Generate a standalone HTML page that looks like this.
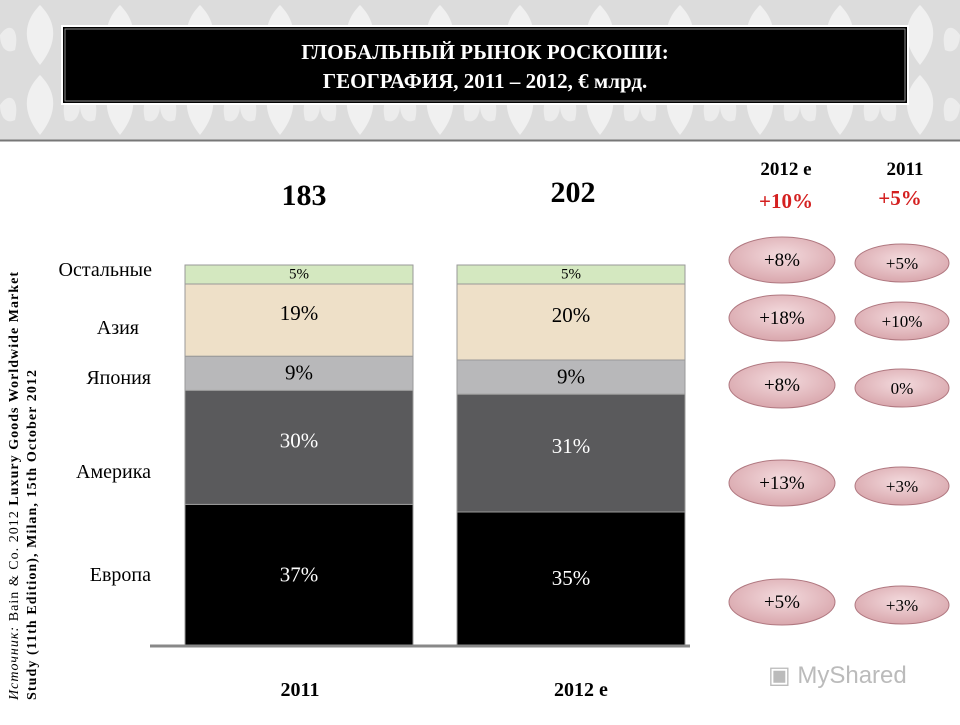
<!DOCTYPE html>
<html><head><meta charset="utf-8"><style>
body{margin:0;width:960px;height:720px;overflow:hidden;background:#fff;font-family:"Liberation Serif","DejaVu Serif",serif;}
</style></head><body>
<svg width="960" height="720" xmlns="http://www.w3.org/2000/svg" id="chart">
<defs>
<pattern id="dam" width="80" height="70" patternUnits="userSpaceOnUse">
<rect width="80" height="70" fill="#dcdcdc"/>
<path d="M40 5 C25 20 20 40 40 65 C60 40 55 20 40 5Z" fill="#f0f0f0"/>
<path d="M0 35 C10 20 20 30 15 50 C5 55 0 45 0 35Z" fill="#ececec"/>
<path d="M80 35 C70 20 60 30 65 50 C75 55 80 45 80 35Z" fill="#ececec"/>
</pattern>
<radialGradient id="pink" cx="50%" cy="40%" r="60%"><stop offset="0" stop-color="#f3dadd"/><stop offset="1" stop-color="#d9a7ad"/></radialGradient>
</defs>
<rect x="0" y="0" width="960" height="140" fill="url(#dam)"/>
<line x1="0" y1="140.5" x2="960" y2="140.5" stroke="#777" stroke-width="2"/>
<rect x="62" y="26" width="846" height="78" fill="#000" stroke="#fff" stroke-width="2"/>
<rect x="65" y="29" width="840" height="72" fill="none" stroke="#888" stroke-width="1"/>
<text x="485" y="59" text-anchor="middle" fill="#fff" font-size="21" font-weight="bold">ГЛОБАЛЬНЫЙ РЫНОК РОСКОШИ:</text>
<text x="485" y="88" text-anchor="middle" fill="#fff" font-size="21" font-weight="bold">ГЕОГРАФИЯ, 2011 – 2012, € млрд.</text>
<g id="bars"></g>
<line x1="150" y1="646" x2="690" y2="646" stroke="#888" stroke-width="3"/>
<text x="304" y="205" text-anchor="middle" font-size="30" font-weight="bold">183</text>
<text x="573" y="202" text-anchor="middle" font-size="30" font-weight="bold">202</text>
<text x="300" y="696" text-anchor="middle" font-size="20" font-weight="bold">2011</text>
<text x="581" y="696" text-anchor="middle" font-size="20" font-weight="bold">2012 e</text>
<g font-size="20" text-anchor="end">
<text x="152" y="276">Остальные</text>
<text x="139" y="334">Азия</text>
<text x="151" y="384">Япония</text>
<text x="151" y="478">Америка</text>
<text x="151" y="581">Европа</text>
</g>
<g transform="translate(18,700) rotate(-90)" font-size="14">
<text x="0" y="0" textLength="428"><tspan font-style="italic">Источник:</tspan> Bain &amp; Co. 2012 <tspan font-weight="bold">Luxury Goods Worldwide Market</tspan></text>
<text x="0" y="18" font-weight="bold" textLength="330">Study (11th Edition), Milan, 15th October 2012</text>
</g>
<text x="786" y="175" text-anchor="middle" font-size="19" font-weight="bold">2012 e</text>
<text x="905" y="175" text-anchor="middle" font-size="19" font-weight="bold">2011</text>
<text x="786" y="208" text-anchor="middle" font-size="21" font-weight="bold" fill="#d42020">+10%</text>
<text x="900" y="205" text-anchor="middle" font-size="21" font-weight="bold" fill="#d42020">+5%</text>
<g id="bubbles"></g>
<text x="768" y="683" font-family="Liberation Sans, sans-serif" font-size="24" fill="#bbb">▣ MyShared</text>
</svg>
<script>
const years = ["2011","2012 e"];
const regions = ["Европа","Америка","Япония","Азия","Остальные"];
const share2011 = [37,30,9,19,5];
const share2012 = [35,31,9,20,5];
const growth2012 = ["+5%","+13%","+8%","+18%","+8%"];
const growth2011 = ["+3%","+3%","0%","+10%","+5%"];
const colors=["#000","#5a5a5c","#b8b8ba","#eee0c8","#d4e8c0"];
const textCol=["#fff","#fff","#000","#000","#000"];
const base=645, pxPer=3.8, xs=[185,457], w=228;
const y=v=>base-v*pxPer;
const ns="http://www.w3.org/2000/svg";
const g=document.getElementById('bars');
const labelOff=[0.55,0.5,0.68,0.5,0.72];
[share2011,share2012].forEach((vals,bi)=>{
  let cum=0;
  vals.forEach((v,i)=>{
    const top=y(cum+v), bot=y(cum);
    const r=document.createElementNS(ns,'rect');
    r.setAttribute('x',xs[bi]);r.setAttribute('y',top);r.setAttribute('width',w);r.setAttribute('height',bot-top);
    r.setAttribute('fill',colors[i]);r.setAttribute('stroke','#999');r.setAttribute('stroke-width','1');
    
    
    g.appendChild(r);
    const t=document.createElementNS(ns,'text');
    t.setAttribute('x',xs[bi]+w/2);
    t.setAttribute('y',top+(bot-top)*labelOff[i]);
    t.setAttribute('text-anchor','middle');t.setAttribute('fill',textCol[i]);
    t.setAttribute('font-size',i===4?15:21);
    t.textContent=v+'%';
    
    
    g.appendChild(t);
    cum+=v;
  });
});
const bg=document.getElementById('bubbles');
const rowY=[602,483,385,318,260];
function bubble(cx,cy,rx,ry,txt,fs){
  const e=document.createElementNS(ns,'ellipse');
  e.setAttribute('cx',cx);e.setAttribute('cy',cy);e.setAttribute('rx',rx);e.setAttribute('ry',ry);
  e.setAttribute('fill','url(#pink)');e.setAttribute('stroke','#b07880');
  
  
  bg.appendChild(e);
  const t=document.createElementNS(ns,'text');
  t.setAttribute('x',cx);t.setAttribute('y',cy+6);t.setAttribute('text-anchor','middle');t.setAttribute('font-size',fs);
  t.textContent=txt;
  
  
  bg.appendChild(t);
}
growth2012.forEach((s,i)=>bubble(782,rowY[i],53,23,s,19));
growth2011.forEach((s,i)=>bubble(902,rowY[i]+3,47,19,s,17));
</script>
</body></html>
